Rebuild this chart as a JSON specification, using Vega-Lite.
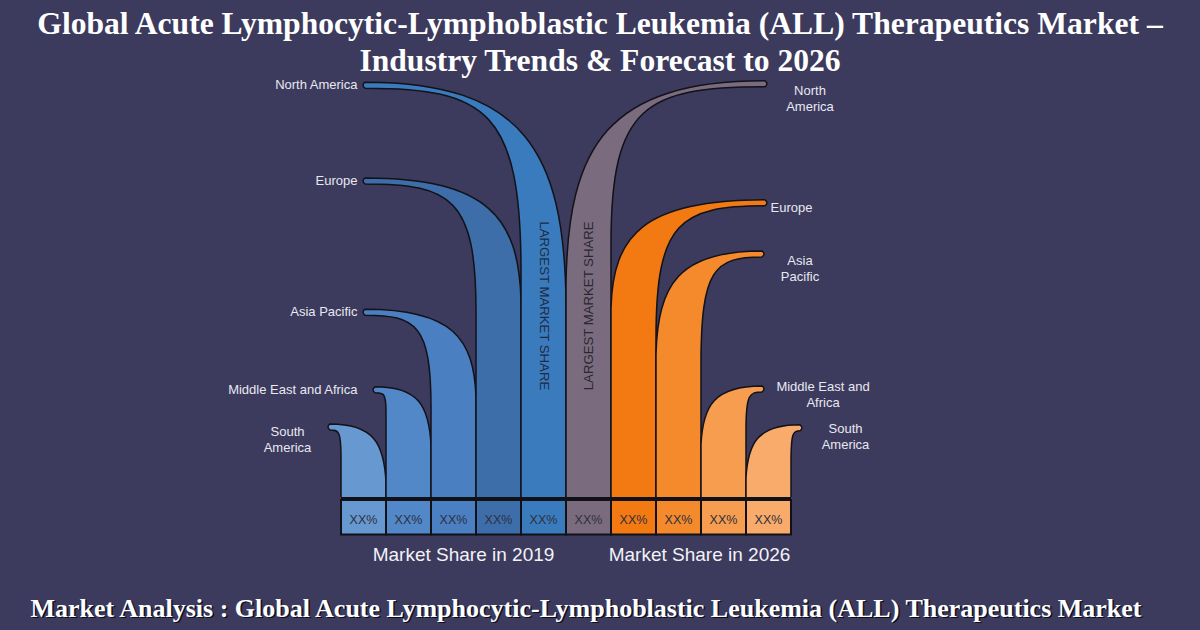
{
  "$schema": "https://vega.github.io/schema/vega-lite/v6.json",
  "width": 1200,
  "height": 422,
  "autosize": {"type": "none"},
  "padding": {"left": 0, "right": 0, "top": 75, "bottom": 133},
  "background": "#3c3a5d",
  "config": {"view": {"stroke": null}, "text": {"font": "Liberation Sans"}},
  "title": {
    "text": ["Global Acute Lymphocytic-Lymphoblastic Leukemia (ALL) Therapeutics Market –", "Industry Trends & Forecast to 2026"],
    "frame": "group",
    "anchor": "middle",
    "font": "Liberation Serif",
    "fontSize": 31.6,
    "fontWeight": "bold",
    "color": "#ffffff",
    "lineHeight": 37,
    "offset": 2,
    "dy": 5
  },
  "data": {
    "values": [
      {"id": "SA2019", "year": "2019", "region": "South America", "value": 16.6, "label": "South\nAmerica", "share": "XX%"},
      {"id": "MEA2019", "year": "2019", "region": "Middle East and Africa", "value": 25.4, "label": "Middle East and Africa", "share": "XX%"},
      {"id": "AP2019", "year": "2019", "region": "Asia Pacific", "value": 43.8, "label": "Asia Pacific", "share": "XX%"},
      {"id": "EU2019", "year": "2019", "region": "Europe", "value": 74.9, "label": "Europe", "share": "XX%"},
      {"id": "NA2019", "year": "2019", "region": "North America", "value": 97.6, "label": "North America", "share": "XX%"},
      {"id": "NA2026", "year": "2026", "region": "North America", "value": 97.9, "label": "North\nAmerica", "share": "XX%"},
      {"id": "EU2026", "year": "2026", "region": "Europe", "value": 69.7, "label": "Europe", "share": "XX%"},
      {"id": "AP2026", "year": "2026", "region": "Asia Pacific", "value": 57.6, "label": "Asia\nPacific", "share": "XX%"},
      {"id": "MEA2026", "year": "2026", "region": "Middle East and Africa", "value": 25.6, "label": "Middle East and\nAfrica", "share": "XX%"},
      {"id": "SA2026", "year": "2026", "region": "South America", "value": 16.4, "label": "South\nAmerica", "share": "XX%"}
    ]
  },
  "layer": [
    {
      "mark": {"type": "bar", "color": "#111118"},
      "encoding": {
        "x": {"field": "id", "type": "nominal",
          "scale": {"type": "band", "domain": ["SA2019", "MEA2019", "AP2019", "EU2019", "NA2019", "NA2026", "EU2026", "AP2026", "MEA2026", "SA2026"], "range": [341, 791], "paddingInner": 0, "paddingOuter": 0},
          "axis": null},
        "y": {"datum": 0.3, "type": "quantitative", "scale": {"domain": [0, 100], "nice": false, "zero": false}, "axis": null},
        "y2": {"datum": -0.7}
      }
    },
    {
      "mark": {"type": "bar", "stroke": "#111118", "strokeWidth": 2},
      "encoding": {
        "x": {"field": "id", "type": "nominal", "axis": null},
        "y": {"datum": -0.7, "type": "quantitative", "scale": {"domain": [0, 100], "nice": false, "zero": false}, "axis": null},
        "y2": {"datum": -8.9},
        "color": {"field": "id", "type": "nominal", "legend": null,
          "scale": {"domain": ["SA2019", "MEA2019", "AP2019", "EU2019", "NA2019", "NA2026", "EU2026", "AP2026", "MEA2026", "SA2026"],
            "range": ["#6898d0", "#5288c8", "#4a7fc1", "#3e6ea9", "#3a7bbd", "#7a6c7e", "#f37a12", "#f48a2c", "#f69d50", "#f8ab6a"]}}
      }
    },
    {
      "mark": {"type": "text", "fontSize": 12.5, "color": "#2f2f3f", "baseline": "middle", "align": "center"},
      "encoding": {
        "x": {"field": "id", "type": "nominal", "axis": null},
        "y": {"datum": -5.45, "type": "quantitative", "scale": {"domain": [0, 100], "nice": false, "zero": false}, "axis": null},
        "text": {"field": "share"}
      }
    },
    {
      "mark": {"type": "point", "clip": true, "filled": true, "opacity": 1, "stroke": "#121218", "strokeWidth": 1.5},
      "encoding": {
        "x": {"field": "id", "type": "nominal", "axis": null},
        "y": {"field": "value", "type": "quantitative", "scale": {"domain": [0, 100], "nice": false, "zero": false}, "axis": null},
        "color": {"field": "id", "type": "nominal", "legend": null},
        "size": {"value": 4},
        "shape": {"field": "id", "type": "nominal", "legend": null,
          "scale": {"domain": ["SA2019", "MEA2019", "AP2019", "EU2019", "NA2019", "NA2026", "EU2026", "AP2026", "MEA2026", "SA2026"],
            "range": [
              "M -22.5 500 L -22.5 30 C -22.5 4.2 -24.9 3 -33.5 3 Q -37.5 0 -33.5 -3 C 10.7 -3 20.5 17 22.5 55 L 22.5 500 Z",
              "M -22.5 500 L -22.5 22 C -22.5 3.1 -24.9 3 -33.5 3 Q -37.5 0 -33.5 -3 C 10.7 -3 20.5 17 22.5 55 L 22.5 500 Z",
              "M -22.5 500 L -22.5 95 C -22.5 13.3 -37 3 -88.5 3 Q -92.5 0 -88.5 -3 C -0.8 -3 20.5 26.4 22.5 85 L 22.5 500 Z",
              "M -22.5 500 L -22.5 130 C -22.5 18.2 -46.9 3 -133.5 3 Q -137.5 0 -133.5 -3 C -10.3 -3 20.5 37.2 22.5 120 L 22.5 500 Z",
              "M -22.5 500 L -22.5 186 C -22.5 26 -56.8 3 -178.5 3 Q -182.5 0 -178.5 -3 C -19.7 -3 20.5 67 22.5 216 L 22.5 500 Z",
              "M 22.5 500 L 22.5 160 C 22.5 22.4 56.4 3 176.5 3 Q 180.5 0 176.5 -3 C 19.3 -3 -20.5 62 -22.5 200 L -22.5 500 Z",
              "M 22.5 500 L 22.5 135 C 22.5 18.9 46.5 3 131.5 3 Q 135.5 0 131.5 -3 C 9.8 -3 -20.5 32.6 -22.5 105 L -22.5 500 Z",
              "M 22.5 500 L 22.5 110 C 22.5 15.4 35.9 3 83.5 3 Q 87.5 0 83.5 -3 C -0.2 -3 -20.5 31 -22.5 100 L -22.5 500 Z",
              "M 22.5 500 L 22.5 40 C 22.5 5.6 26 3 38.5 3 Q 42.5 0 38.5 -3 C -9.7 -3 -20.5 17 -22.5 55 L -22.5 500 Z",
              "M 22.5 500 L 22.5 35 C 22.5 4.9 24.5 3 31.5 3 Q 35.5 0 31.5 -3 C -11.2 -3 -20.5 15.5 -22.5 50 L -22.5 500 Z"
            ]}}
      }
    },
    {
      "transform": [{"filter": "datum.id == 'NA2019'"}],
      "mark": {"type": "text", "angle": 90, "fontSize": 13.2, "color": "#1e2b45", "align": "center", "baseline": "middle"},
      "encoding": {
        "x": {"field": "id", "type": "nominal", "axis": null},
        "y": {"datum": 45.3, "type": "quantitative", "scale": {"domain": [0, 100], "nice": false, "zero": false}, "axis": null},
        "text": {"value": "LARGEST MARKET SHARE"}
      }
    },
    {
      "transform": [{"filter": "datum.id == 'NA2026'"}],
      "mark": {"type": "text", "angle": 270, "fontSize": 13.2, "color": "#2a2633", "align": "center", "baseline": "middle"},
      "encoding": {
        "x": {"field": "id", "type": "nominal", "axis": null},
        "y": {"datum": 45.3, "type": "quantitative", "scale": {"domain": [0, 100], "nice": false, "zero": false}, "axis": null},
        "text": {"value": "LARGEST MARKET SHARE"}
      }
    },
    {
      "transform": [{"filter": "datum.year == '2019' && datum.id != 'SA2019'"}],
      "mark": {"type": "text", "fontSize": 13, "color": "#e8e8f0", "align": "right", "baseline": "middle", "dx": -6, "lineBreak": "\n", "lineHeight": 16.5},
      "encoding": {
        "x": {"datum": "SA2019", "type": "nominal", "axis": null},
        "y": {"field": "value", "type": "quantitative", "scale": {"domain": [0, 100], "nice": false, "zero": false}, "axis": null},
        "text": {"field": "label"}
      }
    },
    {
      "transform": [{"filter": "datum.id == 'SA2019'"}],
      "mark": {"type": "text", "fontSize": 13, "color": "#e8e8f0", "align": "center", "baseline": "middle", "dx": -76, "dy": 5, "lineBreak": "\n", "lineHeight": 16.5},
      "encoding": {
        "x": {"datum": "SA2019", "type": "nominal", "axis": null},
        "y": {"field": "value", "type": "quantitative", "scale": {"domain": [0, 100], "nice": false, "zero": false}, "axis": null},
        "text": {"field": "label"}
      }
    },
    {
      "transform": [{"filter": "datum.id == 'NA2026'"}],
      "mark": {"type": "text", "fontSize": 13, "color": "#e8e8f0", "align": "center", "baseline": "middle", "dx": 41.5, "dy": 7, "lineBreak": "\n", "lineHeight": 16.5},
      "encoding": {
        "x": {"datum": "SA2026", "type": "nominal", "axis": null},
        "y": {"field": "value", "type": "quantitative", "scale": {"domain": [0, 100], "nice": false, "zero": false}, "axis": null},
        "text": {"field": "label"}
      }
    },
    {
      "transform": [{"filter": "datum.id == 'EU2026'"}],
      "mark": {"type": "text", "fontSize": 13, "color": "#e8e8f0", "align": "left", "baseline": "middle", "dx": 2, "dy": 5, "lineBreak": "\n", "lineHeight": 16.5},
      "encoding": {
        "x": {"datum": "SA2026", "type": "nominal", "axis": null},
        "y": {"field": "value", "type": "quantitative", "scale": {"domain": [0, 100], "nice": false, "zero": false}, "axis": null},
        "text": {"field": "label"}
      }
    },
    {
      "transform": [{"filter": "datum.id == 'AP2026'"}],
      "mark": {"type": "text", "fontSize": 13, "color": "#e8e8f0", "align": "center", "baseline": "middle", "dx": 31.5, "dy": 7, "lineBreak": "\n", "lineHeight": 16.5},
      "encoding": {
        "x": {"datum": "SA2026", "type": "nominal", "axis": null},
        "y": {"field": "value", "type": "quantitative", "scale": {"domain": [0, 100], "nice": false, "zero": false}, "axis": null},
        "text": {"field": "label"}
      }
    },
    {
      "transform": [{"filter": "datum.id == 'MEA2026'"}],
      "mark": {"type": "text", "fontSize": 13, "color": "#e8e8f0", "align": "center", "baseline": "middle", "dx": 54.5, "dy": -2, "lineBreak": "\n", "lineHeight": 16.5},
      "encoding": {
        "x": {"datum": "SA2026", "type": "nominal", "axis": null},
        "y": {"field": "value", "type": "quantitative", "scale": {"domain": [0, 100], "nice": false, "zero": false}, "axis": null},
        "text": {"field": "label"}
      }
    },
    {
      "transform": [{"filter": "datum.id == 'SA2026'"}],
      "mark": {"type": "text", "fontSize": 13, "color": "#e8e8f0", "align": "center", "baseline": "middle", "dx": 77, "dy": 1, "lineBreak": "\n", "lineHeight": 16.5},
      "encoding": {
        "x": {"datum": "SA2026", "type": "nominal", "axis": null},
        "y": {"field": "value", "type": "quantitative", "scale": {"domain": [0, 100], "nice": false, "zero": false}, "axis": null},
        "text": {"field": "label"}
      }
    },
    {
      "transform": [{"filter": "datum.id == 'AP2019'"}],
      "mark": {"type": "text", "fontSize": 19, "color": "#f2f2f7", "align": "center", "baseline": "middle", "dx": 10},
      "encoding": {
        "x": {"field": "id", "type": "nominal", "axis": null},
        "y": {"datum": -13.7, "type": "quantitative", "scale": {"domain": [0, 100], "nice": false, "zero": false}, "axis": null},
        "text": {"value": "Market Share in 2019"}
      }
    },
    {
      "transform": [{"filter": "datum.id == 'AP2026'"}],
      "mark": {"type": "text", "fontSize": 19, "color": "#f2f2f7", "align": "center", "baseline": "middle", "dx": 21},
      "encoding": {
        "x": {"field": "id", "type": "nominal", "axis": null},
        "y": {"datum": -13.7, "type": "quantitative", "scale": {"domain": [0, 100], "nice": false, "zero": false}, "axis": null},
        "text": {"value": "Market Share in 2026"}
      }
    },
    {
      "transform": [{"filter": "datum.id == 'NA2026'"}],
      "mark": {"type": "text", "font": "Liberation Serif", "fontSize": 26, "fontWeight": "bold", "color": "#0e0e1c", "align": "center", "baseline": "alphabetic", "dx": -1, "dy": 1.5},
      "encoding": {
        "x": {"field": "id", "type": "nominal", "axis": null},
        "y": {"datum": -28.4, "type": "quantitative", "scale": {"domain": [0, 100], "nice": false, "zero": false}, "axis": null},
        "text": {"value": "Market Analysis : Global Acute Lymphocytic-Lymphoblastic Leukemia (ALL) Therapeutics Market"}
      }
    },
    {
      "transform": [{"filter": "datum.id == 'NA2026'"}],
      "mark": {"type": "text", "font": "Liberation Serif", "fontSize": 26, "fontWeight": "bold", "color": "#ffffff", "align": "center", "baseline": "alphabetic", "dx": -2.5},
      "encoding": {
        "x": {"field": "id", "type": "nominal", "axis": null},
        "y": {"datum": -28.4, "type": "quantitative", "scale": {"domain": [0, 100], "nice": false, "zero": false}, "axis": null},
        "text": {"value": "Market Analysis : Global Acute Lymphocytic-Lymphoblastic Leukemia (ALL) Therapeutics Market"}
      }
    }
  ]
}
